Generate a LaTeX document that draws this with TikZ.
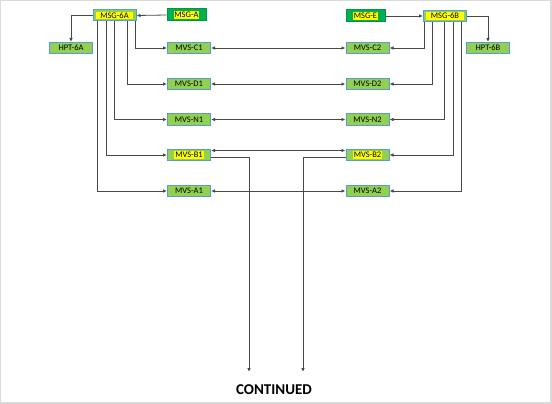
\documentclass[tikz,border=0pt]{standalone}
\usepackage{fontspec}
\setmainfont{Carlito}
\usetikzlibrary{arrows.meta}
\definecolor{boxgreen}{HTML}{92D050}
\definecolor{boxblue}{HTML}{5B9BD5}
\definecolor{darkgreen}{HTML}{00B050}
\definecolor{hlyellow}{HTML}{FFFF00}
\definecolor{linegray}{HTML}{484848}
\definecolor{framegray}{HTML}{DADADA}
\newcommand\hlt[1]{{\setlength\fboxsep{0.8pt}\colorbox{hlyellow}{#1}}}
\newcommand\hlw[1]{{\setlength\fboxsep{0.8pt}\colorbox{hlyellow}{\makebox[36pt]{#1}}}}
\tikzset{
  box/.style={draw=boxblue, line width=1pt, fill=boxgreen, minimum width=43pt,
    minimum height=11pt, inner sep=0pt, font=\fontsize{8.5}{9}\selectfont},
  srcbox/.style={box, draw=darkgreen!85!black, fill=darkgreen, minimum width=39pt, minimum height=12pt},
  conn/.style={draw=linegray, line width=0.8pt},
  arr/.style={conn, -{Latex[length=4pt,width=3.5pt]}},
  darr/.style={conn, {Latex[length=4pt,width=3.5pt]}-{Latex[length=4pt,width=3.5pt]}},
}
\begin{document}
\begin{tikzpicture}[x=1pt,y=-1pt]
\useasboundingbox (0,0) rectangle (552,404);
\draw[framegray, line width=1pt] (0.5,0.5) rectangle (550.5,402.5);
\draw[framegray, line width=1.5pt] (551,0) -- (551,403.2) -- (0,403.2);

% top boxes
\node[box] (MSG6A) at (114.5,15.5) {\hlw{MSG-6A}};
\node[srcbox] (MSGA) at (186.5,15) {\hlt{MSG-A}};
\node[box] (HPT6A) at (71,48) {HPT-6A};
\node[box] (MSG6B) at (445,16) {\hlw{MSG-6B}};
\node[srcbox] (MSGE) at (365.5,16) {\hlt{MSG-E}};
\node[box] (HPT6B) at (488,48) {HPT-6B};

% MVS boxes
\node[box] (C1) at (189,48) {MVS-C1};
\node[box] (D1) at (189,84) {MVS-D1};
\node[box] (N1) at (189,119.5) {MVS-N1};
\node[box] (B1) at (189,155) {\hlt{MVS-B1}};
\node[box] (A1) at (189,191) {MVS-A1};
\node[box] (C2) at (367.5,48) {MVS-C2};
\node[box] (D2) at (367.5,84) {MVS-D2};
\node[box] (N2) at (367.5,119.5) {MVS-N2};
\node[box] (B2) at (367.5,155) {\hlt{MVS-B2}};
\node[box] (A2) at (367.5,191) {MVS-A2};

\node[font=\fontsize{15}{17}\selectfont\bfseries] (CONT) at (274,389.5) {CONTINUED};

% feeds into headers
\draw[arr] (MSGA.west) -- (MSG6A.east);
\draw[arr] (MSGE.east) -- (MSG6B.west);
\draw[arr] (MSG6A.west) -| (HPT6A.north);
\draw[arr] (MSG6B.east) -| (HPT6B.north);

% left header to MVS
\draw[arr] (MSG6A.south -| 135,0) |- (C1.west);
\draw[arr] (MSG6A.south -| 127,0) |- (D1.west);
\draw[arr] (MSG6A.south -| 114,0) |- (N1.west);
\draw[arr] (MSG6A.south -| 106,0) |- (B1.west);
\draw[arr] (MSG6A.south -| 97,0) |- (A1.west);

% right header to MVS
\draw[arr] (MSG6B.south -| 424,0) |- (C2.east);
\draw[arr] (MSG6B.south -| 432,0) |- (D2.east);
\draw[arr] (MSG6B.south -| 444,0) |- (N2.east);
\draw[arr] (MSG6B.south -| 453,0) |- (B2.east);
\draw[arr] (MSG6B.south -| 461,0) |- (A2.east);

% cross ties
\draw[darr] (C1.east) -- (C2.west);
\draw[darr] (D1.east) -- (D2.west);
\draw[darr] (N1.east) -- (N2.west);
\draw[darr] ([yshift=4.5pt]B1.east) -- ([yshift=4.5pt]B2.west);
\draw[darr] (A1.east) -- (A2.west);

% continued lines
\coordinate (CL) at (249,372);
\coordinate (CR) at (303,372);
\draw[arr] ([yshift=-2pt]B1.east) -| (CL);
\draw[arr] ([yshift=-2pt]B2.west) -| (CR);
\end{tikzpicture}
\end{document}
